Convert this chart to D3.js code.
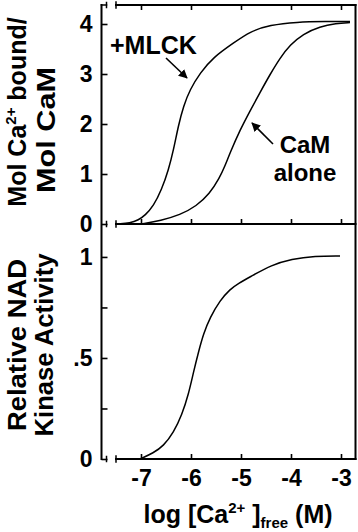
<!DOCTYPE html>
<html><head><meta charset="utf-8">
<script src="https://cdn.jsdelivr.net/npm/d3@7"></script>
<style>
html,body{margin:0;padding:0;background:#fff;}
svg text{font-family:"Liberation Sans",Arial,Helvetica,sans-serif;font-weight:bold;fill:#000;}
</style></head>
<body>
<svg id="c" width="358" height="532"></svg>
<script>
// ---- data (log [Ca2+] free, value) ----
const xTicks = [-7, -6, -5, -4, -3];
const topYTicks = [0, 1, 2, 3, 4];
const botYTicks = [0, 0.25, 0.5, 0.75, 1];
const botYTickLabels = ["0", "", ".5", "", "1"];

const mlckX = [-7.45,-7.22,-7.05,-6.92,-6.75,-6.59,-6.45,-6.35,-6.25,-6.15,-6.02,-5.82,-5.55,-5.15,-4.82,-4.42,-3.89,-3.3,-2.82];
const mlckY = [0.0,0.02,0.08,0.17,0.36,0.68,1.08,1.48,1.98,2.36,2.69,3.02,3.34,3.62,3.85,3.98,4.04,4.05,4.05];

const camX = [-7.0,-6.6,-6.22,-5.89,-5.63,-5.43,-5.32,-5.22,-5.02,-4.82,-4.62,-4.42,-4.22,-4.02,-3.76,-3.42,-3.1,-2.82];
const camY = [0.0,0.07,0.18,0.36,0.6,0.92,1.16,1.42,1.88,2.26,2.63,2.99,3.32,3.58,3.8,3.95,4.01,4.03];

const nadX = [-7.02,-6.75,-6.55,-6.35,-6.18,-6.05,-5.95,-5.85,-5.75,-5.62,-5.42,-5.22,-5.05,-4.79,-4.39,-3.99,-3.52,-3.02];
const nadY = [0.0,0.03,0.065,0.13,0.22,0.32,0.43,0.53,0.62,0.70,0.785,0.84,0.87,0.905,0.96,0.99,1.005,1.005];

// ---- layout ----
const svg = d3.select("#c");
const xAxisL = 116, xAxisR = 355.5, yAxisX = 101.5;
const topTop = 5, mid = 224, botBot = 459;

const x = d3.scaleLinear().domain([-7.5, -2.7]).range([xAxisL, 356]);
const yTop = d3.scaleLinear().domain([0, 4.38]).range([mid, topTop]);
const yBot = d3.scaleLinear().domain([0, 1.163]).range([botBot, mid]);

const g = svg.append("g");
const lw = 2;
function line(x1,y1,x2,y2,w){ g.append("line").attr("x1",x1).attr("y1",y1).attr("x2",x2).attr("y2",y2)
  .attr("stroke","#000").attr("stroke-width",w||lw).attr("stroke-linecap","square"); }

// frame lines
line(yAxisX, topTop, yAxisX, botBot);
line(xAxisR, topTop, xAxisR, botBot);
line(xAxisL, topTop, xAxisR, topTop);
line(xAxisL, mid, xAxisR, mid);
line(xAxisL, botBot, xAxisR, botBot);
[topTop, mid, botBot].forEach(yy => { line(xAxisL, yy-3, xAxisL, yy+3, 1.5); });
line(yAxisX, topTop, yAxisX+5, topTop, 1.5); line(yAxisX+5, topTop-2.5, yAxisX+5, topTop+2.5, 1.5);
line(yAxisX+5, mid-2.5, yAxisX+5, mid+2.5, 1.5);
line(yAxisX+5, botBot-2.5, yAxisX+5, botBot+2.5, 1.5);

// axes via d3
const tickFont = "23px";
const ayTop = d3.axisLeft(yTop).tickValues(topYTicks).tickSize(-6).tickPadding(9).tickFormat(d3.format("d"));
svg.append("g").attr("transform",`translate(${yAxisX},0)`).call(ayTop);
const ayBot = d3.axisLeft(yBot).tickValues(botYTicks).tickSize(-6).tickPadding(9).tickFormat((d,i)=>botYTickLabels[i]);
svg.append("g").attr("transform",`translate(${yAxisX},0)`).call(ayBot);
const axB = d3.axisBottom(x).tickValues(xTicks).tickSize(-5).tickPadding(11).tickFormat(d=>String(d));
svg.append("g").attr("transform",`translate(0,${botBot})`).call(axB);
const axM = d3.axisBottom(x).tickValues(xTicks).tickSize(-5).tickFormat("");
svg.append("g").attr("transform",`translate(0,${mid})`).call(axM);
const axT = d3.axisTop(x).tickValues(xTicks).tickSize(-5).tickFormat("");
svg.append("g").attr("transform",`translate(0,${topTop})`).call(axT);
svg.selectAll(".domain").remove();
svg.selectAll(".tick line").attr("stroke","#000").attr("stroke-width",1.6);
svg.selectAll(".tick text").attr("font-size",tickFont).attr("font-family","Liberation Sans, Arial, sans-serif").attr("font-weight","bold").attr("fill","#000");

// curves
const lineTop = d3.line().x(d=>x(d[0])).y(d=>yTop(d[1])).curve(d3.curveBasis);
const lineBot = d3.line().x(d=>x(d[0])).y(d=>yBot(d[1])).curve(d3.curveBasis);
svg.append("path").attr("d", lineTop(d3.zip(mlckX, mlckY))).attr("fill","none").attr("stroke","#000").attr("stroke-width",1.5);
svg.append("path").attr("d", lineTop(d3.zip(camX, camY))).attr("fill","none").attr("stroke","#000").attr("stroke-width",1.5);
svg.append("path").attr("d", lineBot(d3.zip(nadX, nadY))).attr("fill","none").attr("stroke","#000").attr("stroke-width",1.5);

// arrows
const defs = svg.append("defs");
defs.append("marker").attr("id","ah").attr("viewBox","0 0 10 10").attr("refX",9).attr("refY",5)
  .attr("markerWidth",9).attr("markerHeight",9).attr("markerUnits","userSpaceOnUse").attr("orient","auto")
  .append("path").attr("d","M0,0 L10,5 L0,10 z").attr("fill","#000");
svg.append("line").attr("x1",166).attr("y1",58).attr("x2",187).attr("y2",78).attr("stroke","#000").attr("stroke-width",1.6).attr("marker-end","url(#ah)");
svg.append("line").attr("x1",273).attr("y1",144).attr("x2",252).attr("y2",123).attr("stroke","#000").attr("stroke-width",1.6).attr("marker-end","url(#ah)");

// annotations
svg.append("text").attr("x",110).attr("y",54).attr("font-size","25px").text("+MLCK");
svg.append("text").attr("x",305).attr("y",153).attr("text-anchor","middle").attr("font-size","24px").text("CaM");
svg.append("text").attr("x",305).attr("y",181).attr("text-anchor","middle").attr("font-size","24px").text("alone");

// y labels
const yl1 = svg.append("text").attr("transform","translate(26,112) rotate(-90)").attr("text-anchor","middle").attr("font-size","25px");
yl1.append("tspan").text("Mol Ca");
yl1.append("tspan").attr("font-size","15px").attr("dy","-10").text("2+");
yl1.append("tspan").attr("dy","10").text(" bound/");
svg.append("text").attr("transform","translate(55,130) rotate(-90)").attr("text-anchor","middle").attr("font-size","25px")
  .attr("textLength",126).attr("lengthAdjust","spacingAndGlyphs").text("Mol CaM");
svg.append("text").attr("transform","translate(26,345) rotate(-90)").attr("text-anchor","middle").attr("font-size","25px")
  .attr("textLength",172).attr("lengthAdjust","spacingAndGlyphs").text("Relative NAD");
svg.append("text").attr("transform","translate(53,345) rotate(-90)").attr("text-anchor","middle").attr("font-size","25px")
  .attr("textLength",183).attr("lengthAdjust","spacingAndGlyphs").text("Kinase Activity");

// x label
const xl = svg.append("text").attr("x",238).attr("y",523).attr("text-anchor","middle").attr("font-size","25px");
xl.append("tspan").text("log [Ca");
xl.append("tspan").attr("font-size","15px").attr("dy","-10").text("2+");
xl.append("tspan").attr("dy","10").text(" ]");
xl.append("tspan").attr("font-size","15px").attr("dy","5").text("free");
xl.append("tspan").attr("dy","-5").text(" (M)");
</script>
</body></html>
